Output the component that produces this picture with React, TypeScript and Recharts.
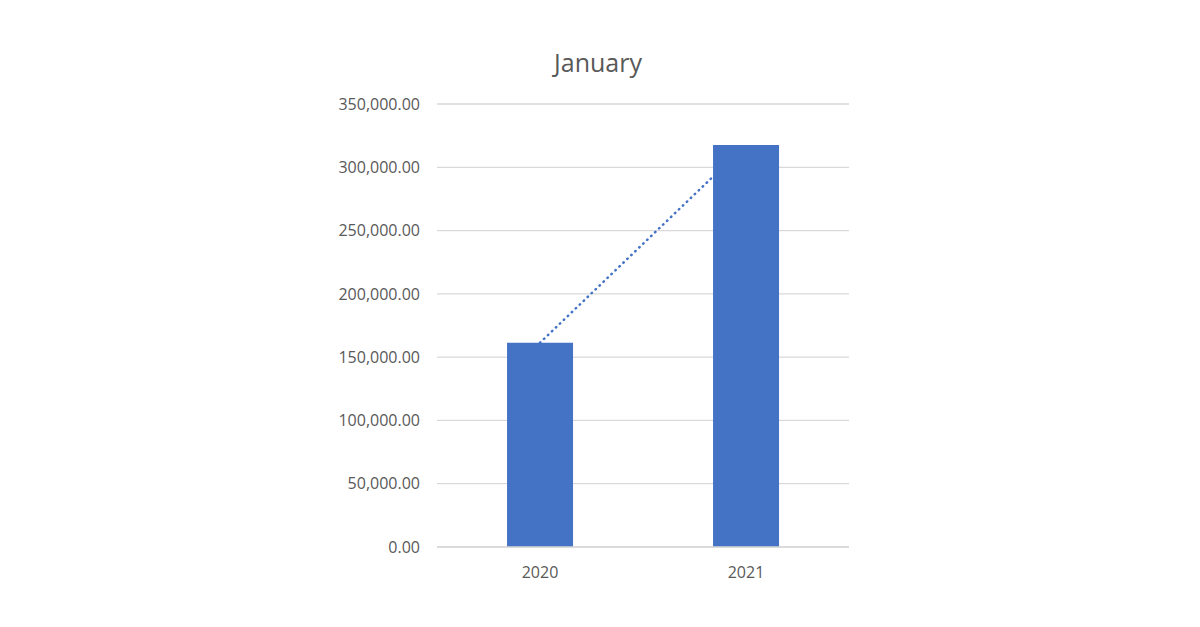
import { ComposedChart, Bar, Line, XAxis, YAxis, CartesianGrid } from "recharts";

const years = ["2020", "2021"];
const sales = [161400, 317600];
const yTicks = [0, 50000, 100000, 150000, 200000, 250000, 300000, 350000];

const data = years.map((year, i) => ({ year, sales: sales[i] }));

const fmt = (v: number) =>
  v.toLocaleString("en-US", { minimumFractionDigits: 2, maximumFractionDigits: 2 });

const FONT = "'Open Sans', 'Noto Sans', sans-serif";
const GREY_TEXT = "#595959";
const BLUE = "#4472C4";

export default function App() {
  return (
    <div style={{ position: "absolute", left: 0, top: 0, width: 1200, height: 627, background: "#fff", fontFamily: FONT }}>
      <div
        style={{
          position: "absolute",
          left: 0,
          width: 1196,
          top: 47,
          textAlign: "center",
          fontSize: 25,
          color: GREY_TEXT,
          lineHeight: "30px",
        }}
      >
        January
      </div>
      <ComposedChart
        width={1200}
        height={627}
        data={data}
        margin={{ top: 104, right: 351, bottom: 50, left: 0 }}
        barCategoryGap="34%"
      >
        <CartesianGrid vertical={false} stroke="#D9D9D9" strokeWidth={1.3} />
        <XAxis
          dataKey="year"
          height={30}
          axisLine={{ stroke: "#D9D9D9", strokeWidth: 1.3 }}
          tickLine={false}
          tickMargin={14}
          tick={{ fill: GREY_TEXT, fontSize: 16, fontFamily: FONT }}
        />
        <YAxis
          width={437}
          domain={[0, 350000]}
          ticks={yTicks}
          interval={0}
          axisLine={false}
          tickLine={false}
          tickMargin={11}
          tickFormatter={fmt}
          tick={{ fill: GREY_TEXT, fontSize: 16, fontFamily: FONT }}
        />
        <Line
          dataKey="sales"
          type="linear"
          stroke={BLUE}
          strokeWidth={2.5}
          strokeDasharray="0.5 5"
          strokeLinecap="round"
          dot={false}
          activeDot={false}
          isAnimationActive={false}
          zIndex={250}
        />
        <Bar dataKey="sales" fill={BLUE} isAnimationActive={false} />
      </ComposedChart>
    </div>
  );
}
